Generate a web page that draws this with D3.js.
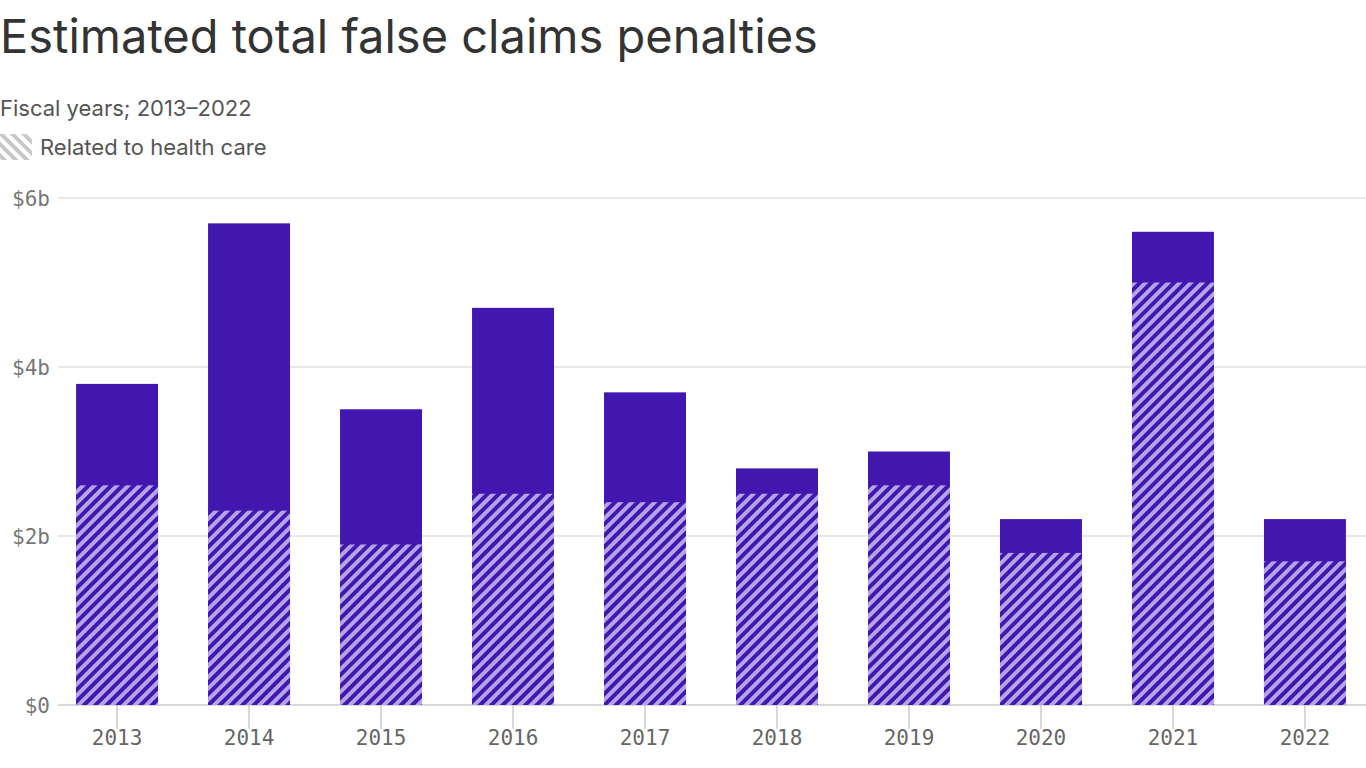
<!DOCTYPE html>
<html>
<head>
<meta charset="utf-8">
<script src="https://cdn.jsdelivr.net/npm/d3@7"></script>
<style>
  body { margin: 0; background: #fff; }
  text { font-family: Inter, "Noto Sans", sans-serif; }
  .mono { font-family: "DejaVu Sans Mono", "Liberation Mono", monospace; }
</style>
</head>
<body>
<svg id="chart" width="1366" height="768"></svg>
<script>
// data
var years = ["2013", "2014", "2015", "2016", "2017", "2018", "2019", "2020", "2021", "2022"];
var totalPenalties = [3.8, 5.7, 3.5, 4.7, 3.7, 2.8, 3.0, 2.2, 5.6, 2.2];
var healthPenalties = [2.6, 2.3, 1.9, 2.5, 2.4, 2.5, 2.6, 1.8, 5.0, 1.7];
var yTicks = [0, 2, 4, 6];

var svg = d3.select("#chart");

var defs = svg.append("defs");
var pat = defs.append("pattern")
    .attr("id", "hatch")
    .attr("patternUnits", "userSpaceOnUse")
    .attr("width", 8).attr("height", 8)
    .attr("patternTransform", "rotate(45)");
pat.append("rect").attr("width", 8).attr("height", 8).attr("fill", "#4117b0");
pat.append("rect").attr("width", 4).attr("height", 8).attr("fill", "#b4a5e8");

var legPat = defs.append("pattern")
    .attr("id", "hatchLegend")
    .attr("patternUnits", "userSpaceOnUse")
    .attr("width", 8).attr("height", 8)
    .attr("patternTransform", "rotate(-45)");
legPat.append("rect").attr("width", 8).attr("height", 8).attr("fill", "#fff");
legPat.append("rect").attr("width", 4).attr("height", 8).attr("fill", "#c8c8c8");

svg.append("text").attr("x", 0).attr("y", 53)
    .attr("font-size", 47).attr("fill", "#333").text("Estimated total false claims penalties");
svg.append("text").attr("x", 0).attr("y", 116)
    .attr("font-size", 22).attr("fill", "#555").text("Fiscal years; 2013\u20132022");
svg.append("rect").attr("x", 0).attr("y", 134).attr("width", 32).attr("height", 26)
    .attr("fill", "url(#hatchLegend)");
svg.append("text").attr("x", 40).attr("y", 155)
    .attr("font-size", 22).attr("fill", "#555").text("Related to health care");

var x = d3.scaleBand().domain(years).range([51, 1371])
    .paddingInner(0.379).paddingOuter(0.19);
var y = d3.scaleLinear().domain([0, 6]).range([705, 198]);

// gridlines
svg.append("g").selectAll("line").data(yTicks).join("line")
    .attr("x1", 58).attr("x2", 1366)
    .attr("y1", function (d) { return y(d); }).attr("y2", function (d) { return y(d); })
    .attr("stroke", function (d) { return d === 0 ? "#ccc" : "#e0e0e0"; })
    .attr("stroke-width", 1.5);

svg.append("g").selectAll("text").data(yTicks).join("text")
    .attr("class", "mono")
    .attr("x", 50).attr("y", function (d) { return y(d) + 8; })
    .attr("text-anchor", "end").attr("font-size", 21).attr("fill", "#777")
    .text(function (d) { return "$" + d + (d === 0 ? "" : "b"); });

// x axis ticks and labels
var xAxis = svg.append("g").attr("transform", "translate(0,705)")
    .call(d3.axisBottom(x).tickSize(24).tickSizeOuter(0));
xAxis.select(".domain").remove();
xAxis.selectAll(".tick line").attr("stroke", "#ccc").attr("stroke-width", 1.5);
xAxis.selectAll(".tick text").attr("class", "mono")
    .attr("font-size", 21).attr("fill", "#666").attr("dy", "0.6em");

// bars
svg.append("g").selectAll("rect").data(years).join("rect")
    .attr("x", function (d) { return x(d); })
    .attr("width", x.bandwidth())
    .attr("y", function (d, i) { return y(totalPenalties[i]); })
    .attr("height", function (d, i) { return y(0) - y(totalPenalties[i]); })
    .attr("fill", "#4117b0");

svg.append("g").selectAll("rect").data(years).join("rect")
    .attr("x", function (d) { return x(d); })
    .attr("width", x.bandwidth())
    .attr("y", function (d, i) { return y(healthPenalties[i]); })
    .attr("height", function (d, i) { return y(0) - y(healthPenalties[i]); })
    .attr("fill", "url(#hatch)");
</script>
</body>
</html>
